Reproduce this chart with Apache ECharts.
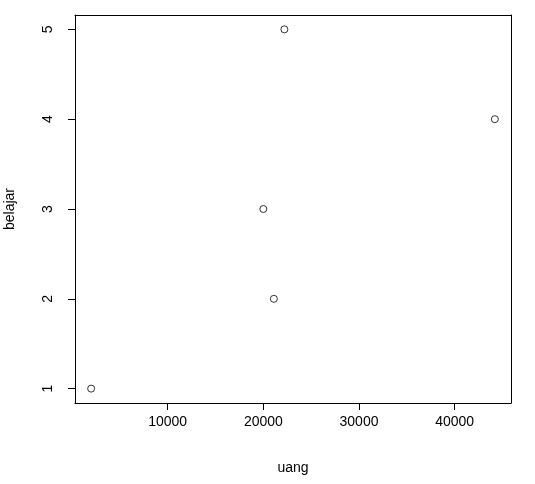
<!DOCTYPE html>
<html><head><meta charset="utf-8">
<script src="https://cdn.jsdelivr.net/npm/echarts@6/dist/echarts.min.js"></script>
<style>html,body{margin:0;padding:0;background:#fff}#c{width:535px;height:484px}</style>
</head><body><div id="c"></div>
<script>
const uang = [2000, 21100, 20000, 22200, 44200];
const belajar = [1, 2, 3, 5, 4];
const xTicks = [10000, 20000, 30000, 40000];
const yTicks = [1, 2, 3, 4, 5];
const font = 'Liberation Sans, Arial, sans-serif';
const chart = echarts.init(document.getElementById('c'));
const lineStyle = {color:'#000', width:1};
chart.setOption({
  animation:false,
  grid:{left:75, right:24, top:15, bottom:81, containLabel:false, outerBoundsMode:'none'},
  xAxis:[{type:'value', min:312, max:45888, position:'bottom',
    name:'uang', nameLocation:'middle', nameGap:58, nameTextStyle:{fontFamily:font,fontSize:14,color:'#000'},
    axisLine:{show:true, onZero:false, lineStyle},
    axisTick:{show:true, length:7, lineStyle, customValues:xTicks},
    axisLabel:{fontFamily:font, fontSize:14, color:'#000', margin:12, customValues:xTicks, formatter:v=>String(v)},
    splitLine:{show:false}},
   {type:'value', min:312, max:45888, position:'top',
    axisLine:{show:true, onZero:false, lineStyle}, axisTick:{show:false}, axisLabel:{show:false}, splitLine:{show:false}}],
  yAxis:[{type:'value', min:0.84, max:5.16, position:'left',
    name:'belajar', nameLocation:'middle', nameGap:58, nameRotate:90, nameTextStyle:{fontFamily:font,fontSize:14,color:'#000'},
    axisLine:{show:true, onZero:false, lineStyle},
    axisTick:{show:true, length:7, lineStyle, customValues:yTicks},
    axisLabel:{fontFamily:font, fontSize:14, color:'#000', margin:20, rotate:90, customValues:yTicks},
    splitLine:{show:false}},
   {type:'value', min:0.84, max:5.16, position:'right',
    axisLine:{show:true, onZero:false, lineStyle}, axisTick:{show:false}, axisLabel:{show:false}, splitLine:{show:false}}],
  series:[{type:'scatter', symbol:'circle', symbolSize:7,
    itemStyle:{color:'rgba(0,0,0,0)', borderColor:'#000', borderWidth:1},
    data: uang.map((u,i)=>[u, belajar[i]])}]
});
</script></body></html>
